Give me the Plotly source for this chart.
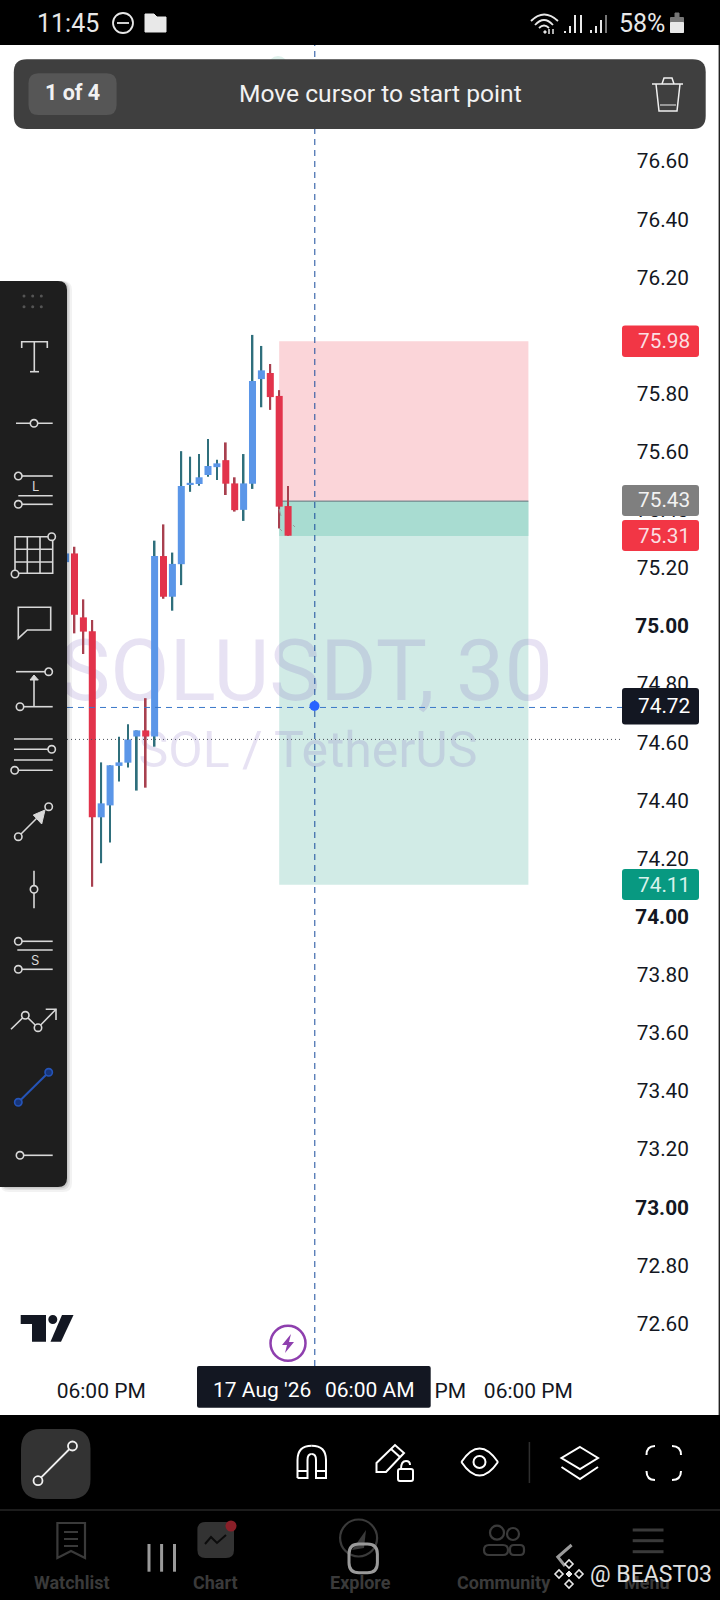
import pandas as pd
import plotly.graph_objects as go

# --- candle data (SOLUSDT 30m) ---
times = pd.date_range("2026-08-16 16:00", periods=26, freq="30min")
opens = [75.22, 75.25, 75.03, 74.982, 74.342, 74.383, 74.519, 74.53, 74.62, 74.641, 74.62, 75.241, 75.101,
         75.213, 75.488, 75.489, 75.52, 75.547, 75.571, 75.491, 75.4, 75.49, 75.85, 75.871, 75.792, 75.413]
highs = [75.26, 75.273, 75.092, 75.021, 74.531, 74.521, 74.619, 74.662, 74.641, 74.752, 75.294, 75.35, 75.253,
         75.602, 75.583, 75.592, 75.644, 75.572, 75.632, 75.512, 75.592, 76.002, 75.964, 75.902, 75.812, 75.482]
lows = [75.20, 74.975, 74.904, 74.103, 74.184, 74.255, 74.465, 74.513, 74.434, 74.444, 74.585, 75.094, 75.053,
        75.141, 75.462, 75.483, 75.514, 75.503, 75.451, 75.394, 75.362, 75.472, 75.753, 75.744, 75.336, 75.311]
closes = [75.25, 75.039, 74.981, 74.342, 74.39, 74.521, 74.531, 74.61, 74.641, 74.62, 75.241, 75.101, 75.214,
          75.482, 75.493, 75.512, 75.551, 75.56, 75.49, 75.399, 75.491, 75.843, 75.88, 75.788, 75.411, 75.311]

price_ticks = [72.6, 72.8, 73.0, 73.2, 73.4, 73.6, 73.8, 74.0, 74.2, 74.4, 74.6, 74.8, 75.0, 75.2, 75.4, 75.6,
               75.8, 76.0, 76.2, 76.4, 76.6]
time_ticks = ["2026-08-16 18:00", "2026-08-17 00:00", "2026-08-17 06:00", "2026-08-17 12:00", "2026-08-17 18:00"]
time_labels = ["06:00 PM", "17", "06:00 AM", "12:00 PM", "06:00 PM"]

stop_price = 75.98
entry_price = 75.43
last_price = 75.31
target_price = 74.11
cursor_price = 74.72
prev_close = 74.61
zone_start = "2026-08-17 04:00"
zone_end = "2026-08-17 18:00"
cursor_time = "2026-08-17 06:00"

BLUE = "#5b96e8"
RED = "#e2334b"
ICON = "#d8d8d8"


# pixel calibration of the chart pane
def px_time(px):
    return pd.Timestamp("2026-08-16 16:30") + pd.Timedelta(minutes=(px - 74.5) / 8.9 * 30)


def px_price(py):
    return 75.98 - (py - 341.3) / 290.6


def X(px):
    return px / 720


def Y(py):
    return 1 - py / 1600


shapes = []


def rrect(x0, y0, x1, y1, r, fill, line=None, w=0, opacity=1):
    d = (f"M {X(x0 + r)} {Y(y0)} L {X(x1 - r)} {Y(y0)} Q {X(x1)} {Y(y0)} {X(x1)} {Y(y0 + r)} "
         f"L {X(x1)} {Y(y1 - r)} Q {X(x1)} {Y(y1)} {X(x1 - r)} {Y(y1)} L {X(x0 + r)} {Y(y1)} "
         f"Q {X(x0)} {Y(y1)} {X(x0)} {Y(y1 - r)} L {X(x0)} {Y(y0 + r)} Q {X(x0)} {Y(y0)} {X(x0 + r)} {Y(y0)} Z")
    shapes.append(dict(type="path", xref="paper", yref="paper", path=d, fillcolor=fill, opacity=opacity,
                       line=dict(color=line or "rgba(0,0,0,0)", width=w)))


def poly(pts, color=ICON, w=1.6, fill=None, close=False):
    d = "M " + " L ".join(f"{X(a)} {Y(b)}" for a, b in pts) + (" Z" if close else "")
    shapes.append(dict(type="path", xref="paper", yref="paper", path=d,
                       fillcolor=fill or "rgba(0,0,0,0)", line=dict(color=color, width=w)))


def curve(x0, y0, cx, cy, x1, y1, color, w=1.6):
    d = f"M {X(x0)} {Y(y0)} Q {X(cx)} {Y(cy)} {X(x1)} {Y(y1)}"
    shapes.append(dict(type="path", xref="paper", yref="paper", path=d, line=dict(color=color, width=w)))


def circ(cx, cy, r, color=ICON, w=1.6, fill=None):
    shapes.append(dict(type="circle", xref="paper", yref="paper", x0=X(cx - r), x1=X(cx + r), y0=Y(cy + r), y1=Y(cy - r),
                       fillcolor=fill or "rgba(0,0,0,0)", line=dict(color=color, width=w)))


def label(x, y, text, color, size, bold=False, family="Roboto", anchor="center"):
    return dict(xref="paper", yref="paper", x=X(x), y=Y(y), text=f"<b>{text}</b>" if bold else text, showarrow=False,
                xanchor=anchor, yanchor="middle", font=dict(family=family, size=size, color=color))


# --- position tool zones, under the candles ---
def zone(p0, p1, fill):
    shapes.append(dict(type="rect", xref="x", yref="y", x0=zone_start, x1=zone_end, y0=p0, y1=p1, fillcolor=fill,
                       line_width=0, layer="below"))


zone(entry_price, stop_price, "#fbd5d9")
zone(target_price, entry_price, "#d1ebe6")
zone(last_price, entry_price, "#a8dcd1")
shapes.append(dict(type="line", xref="x", yref="y", x0=zone_start, x1=zone_end, y0=entry_price, y1=entry_price,
                   line=dict(color="#5d7078", width=1), layer="below"))

# --- crosshair and previous close line ---
shapes.append(dict(type="line", xref="x", yref="paper", x0=cursor_time, x1=cursor_time, y0=Y(1366), y1=Y(45),
                   line=dict(color="#174a9c", width=1, dash="6px,5px")))
shapes.append(dict(type="line", xref="paper", yref="y", x0=X(67), x1=X(622), y0=cursor_price, y1=cursor_price,
                   line=dict(color="#3a78c8", width=1, dash="6px,5px")))
shapes.append(dict(type="line", xref="paper", yref="y", x0=X(67), x1=X(620), y0=prev_close, y1=prev_close,
                   line=dict(color="#4a4f58", width=1, dash="1px,3px")))
circ(314.5, 706, 5, "#2962ff", 0, "#2962ff")

# small cursor marks beside the last candle
poly([(279, 509), (281, 516)], "#9a9a9a", 1)
poly([(279, 528), (282, 531)], "#9a9a9a", 1)
poly([(293, 525), (295, 527)], "#9a9a9a", 1)

# --- price tags ---
rrect(622, 325.5, 699, 357, 3, "#f23645")
rrect(622, 485, 699, 516, 3, "#7f7f7f")
rrect(622, 520, 699, 551, 3, "#f23645")
rrect(622, 688, 699, 724.5, 3, "#131722")
rrect(622, 869, 699, 900, 3, "#089981")

# --- status bar and hint bar ---
shapes.append(dict(type="rect", xref="paper", yref="paper", x0=X(718.6), x1=X(720), y0=Y(1415), y1=Y(45),
                   fillcolor="#222222", line_width=0))
shapes.append(dict(type="rect", xref="paper", yref="paper", x0=0, x1=1, y0=Y(45), y1=1, fillcolor="#000000", line_width=0))
circ(278, 66, 10, "#dff1ec", 0, "#dff1ec")
rrect(13.8, 59.3, 705.7, 129, 13, "#3f3f3f")
rrect(28.5, 73.3, 116.6, 115, 10, "#565656")
circ(123, 23, 10, "#e8e8e8", 1.8)
poly([(117, 23), (129, 23)], "#e8e8e8", 1.8)
poly([(145, 14), (154, 14), (157, 17), (166, 17), (166, 32), (145, 32)], "#e8e8e8", 1, "#e8e8e8", True)
# wifi
curve(531, 21, 544, 8, 558, 21, "#e8e8e8", 1.8)
curve(535, 25, 544, 15, 553, 25, "#e8e8e8", 1.8)
curve(539, 28, 544, 23, 549, 28, "#e8e8e8", 1.8)
circ(545, 32, 1.2, "#e8e8e8", 1, "#e8e8e8")
poly([(553, 29), (553, 34)], "#e8e8e8", 1.5)
poly([(549, 34), (549, 29)], "#e8e8e8", 1.5)
# signal bars
for bx, by in [(565, 31), (570, 26), (575, 15), (581, 15)]:
    poly([(bx, by), (bx, 33)], "#e8e8e8", 2)
for bx, by in [(591, 30), (596, 26), (601, 20), (606, 15)]:
    poly([(bx, by), (bx, 33)], "#e8e8e8" if bx < 606 else "#777777", 2)
# battery
rrect(670, 17, 684, 33, 1, "#777777")
rrect(670, 22, 684, 33, 1, "#e8e8e8")
poly([(675, 13), (679, 13), (679, 17), (675, 17)], "#777777", 1, "#777777", True)
# trash
poly([(652, 84), (683, 84)], "#f0f0f0", 1.5)
poly([(662, 84), (664, 78), (672, 78), (674, 84)], "#f0f0f0", 1.5)
poly([(656, 84), (659, 111), (677, 111), (680, 84)], "#f0f0f0", 1.5)
poly([(660, 105), (676, 105)], "#f0f0f0", 1)

# --- drawing toolbar ---
for grow, alpha in [(5, 0.05), (3, 0.07), (1.5, 0.1)]:
    rrect(0, 281, 67 + grow, 1187 + grow, 9, f"rgba(0,0,0,{alpha})")
rrect(-8, 281, 67, 1187, 9, "#1e1e1e")
for gy in (296, 306.7):
    for gx in (24, 32.7, 41.3):
        circ(gx, gy, 1.5, "#555555", 0, "#555555")


def node(cx, cy, color=ICON, fill="#1e1e1e", r=3.7):
    circ(cx, cy, r, color, 1.6, fill)


# T
poly([(21.7, 348), (21.7, 341.7), (47.3, 341.7), (47.3, 348)])
poly([(34.3, 341.7), (34.3, 371.7)])
poly([(30, 371.7), (39, 371.7)])
# horizontal ray
poly([(16, 423.3), (52.7, 423.3)])
node(34, 423.3)
# L levels
poly([(21.7, 476), (52.7, 476)])
node(18.3, 476)
poly([(18.3, 495.7), (52.7, 495.7)])
poly([(21.7, 504.3), (52.7, 504.3)])
node(18.3, 504.3)
# grid
poly([(15, 536.7), (52.7, 536.7), (52.7, 573.3), (15, 573.3)], close=True)
for gx in (27.3, 40):
    poly([(gx, 536.7), (gx, 573.3)])
for gy in (549.3, 562):
    poly([(15, gy), (52.7, gy)])
node(51.7, 536.7)
node(15, 574)
# comment
poly([(18.3, 607.3), (50.7, 607.3), (50.7, 630), (27.3, 630), (18.3, 638.3)], close=True)
# price range
poly([(16, 671.7), (45, 671.7)])
node(48.7, 671.7)
poly([(34, 677), (34, 706.7)])
poly([(30, 680), (38.3, 680), (34, 675)], ICON, 1, ICON, True)
poly([(24, 706.7), (52.7, 706.7)])
node(20, 706.7)
# channel lines
poly([(14, 739), (52.7, 739)])
poly([(14, 749.3), (48, 749.3)])
node(51.7, 749.3)
poly([(14, 760), (52.7, 760)])
poly([(18.4, 770.3), (52.7, 770.3)])
node(14.7, 770.3)
# arrow
poly([(21, 834), (38, 817)])
poly([(45, 810), (33.3, 815), (41.7, 824)], ICON, 1, ICON, True)
node(18.3, 836.7)
node(48.7, 806.7)
# vertical
poly([(34, 870.7), (34, 908.3)])
node(34, 889.3)
# S levels
poly([(21.7, 941.3), (52.7, 941.3)])
node(18.3, 941.3)
poly([(17.3, 950), (52.7, 950)])
poly([(21.7, 969.3), (52.7, 969.3)])
node(18.3, 969.3)
# zigzag
poly([(11, 1029.3), (25.3, 1015.3), (38, 1027.7), (56, 1009.3)])
poly([(45.7, 1009.3), (56, 1009.3), (56, 1020)])
node(25.3, 1015.3)
node(38, 1027.7)
# active trend line
poly([(18.3, 1102.3), (48.7, 1072.3)], "#2554b8", 2)
node(48.7, 1072.3, "#2554b8", "#17357a")
node(18.3, 1102.3, "#2554b8", "#17357a")
# ray
poly([(24, 1155.3), (52.7, 1155.3)])
node(20, 1155.3)

# --- tradingview logo, bolt, time tag ---
poly([(20.7, 1315), (46, 1315), (46, 1341.7), (32, 1341.7), (32, 1324), (20.7, 1324)], "#131722", 0, "#131722", True)
circ(52.8, 1319.5, 4.5, "#131722", 0, "#131722")
poly([(62, 1315), (73.5, 1315), (61, 1341.7), (50.5, 1341.7)], "#131722", 0, "#131722", True)
circ(288, 1343.3, 17.5, "#8e3fae", 2.5, "#ffffff")
poly([(291, 1334), (282, 1345), (287, 1345), (285, 1353), (294, 1342), (289, 1342)], "#8e3fae", 0, "#8e3fae", True)
rrect(197, 1366, 430.7, 1407.7, 2, "#131722")

# --- bottom panels ---
shapes.append(dict(type="rect", xref="paper", yref="paper", x0=0, x1=1, y0=0, y1=Y(1415), fillcolor="#000000", line_width=0))
poly([(0, 1510), (720, 1510)], "#262626", 1.5)
rrect(21, 1429, 90.5, 1499, 20, "#333333")
poly([(38, 1480.7), (72.5, 1446)], "#f0f0f0", 1.8)
circ(72.5, 1446, 4.5, "#f0f0f0", 1.8, "#333333")
circ(38, 1480.7, 4.5, "#f0f0f0", 1.8, "#333333")
# magnet
poly([(297.5, 1478), (297.5, 1460)], "#ffffff", 2)
curve(297.5, 1460, 297.5, 1445.7, 311.7, 1445.7, "#ffffff", 2)
curve(311.7, 1445.7, 326, 1445.7, 326, 1460, "#ffffff", 2)
poly([(326, 1460), (326, 1478), (316, 1478), (316, 1460)], "#ffffff", 2)
curve(316, 1460, 316, 1454, 311.7, 1454, "#ffffff", 2)
curve(311.7, 1454, 307.5, 1454, 307.5, 1460, "#ffffff", 2)
poly([(307.5, 1460), (307.5, 1478), (297.5, 1478)], "#ffffff", 2)
poly([(297.5, 1471), (307.5, 1471)], "#ffffff", 2)
poly([(316, 1471), (326, 1471)], "#ffffff", 2)
# pencil with lock
poly([(376.5, 1472), (376.5, 1463), (395, 1445), (404, 1453), (386, 1472)], "#ffffff", 2, None, True)
poly([(391, 1449), (400, 1457)], "#ffffff", 2)
rrect(398, 1469, 413, 1481, 2, "#000000", "#ffffff", 2)
curve(401, 1469, 401, 1461, 406, 1461, "#ffffff", 2)
curve(406, 1461, 410, 1461, 410, 1465, "#ffffff", 2)
# eye
curve(461.4, 1462, 479.5, 1435, 498, 1462, "#ffffff", 2)
curve(461.4, 1462, 479.5, 1489, 498, 1462, "#ffffff", 2)
circ(479.5, 1462, 6, "#ffffff", 2)
poly([(529.4, 1442), (529.4, 1483)], "#2e2e2e", 1.5)
# layers
poly([(580, 1447), (598, 1458), (580, 1469), (561.5, 1458)], "#ffffff", 2, None, True)
poly([(561.5, 1467), (580, 1479), (598, 1467)], "#ffffff", 2)
# fullscreen corners
for (ax, ay), (cx, cy), (bx, by) in [((646.5, 1455), (646.5, 1446), (655, 1446)), ((672, 1446), (681, 1446), (681, 1455)),
                                     ((646.5, 1471), (646.5, 1480), (655, 1480)), ((672, 1480), (681, 1480), (681, 1471))]:
    curve(ax, ay, cx, cy, bx, by, "#ffffff", 2)

# dimmed nav bar
DIM = "#3a3a3a"
poly([(57.4, 1523), (85, 1523), (85, 1558), (71, 1551), (57.4, 1558)], DIM, 2.2, None, True)
for ly in (1532, 1539, 1546):
    poly([(64, ly), (78, ly)], DIM, 2)
rrect(197.4, 1522, 234, 1558, 8, "#333333")
poly([(205, 1544), (211, 1537), (217, 1543), (226, 1535)], "#0c0c0c", 2)
circ(231, 1526, 5.5, "#8a1f28", 0, "#8a1f28")
circ(358.6, 1538, 18.5, DIM, 2.2)
poly([(352, 1550), (366, 1530), (364, 1548)], DIM, 0, DIM, True)
circ(497, 1532.7, 7, DIM, 2.2)
circ(513, 1534, 6, DIM, 2.2)
rrect(484, 1545, 508, 1555, 5, "#000000", DIM, 2.2)
rrect(510, 1545, 524, 1555, 4, "#000000", DIM, 2.2)
for ly in (1530, 1540.7, 1551.7):
    poly([(632.7, ly), (663.5, ly)], DIM, 3)

# android nav overlay and watermark handle
for bx in (149, 161.6, 174.5):
    poly([(bx, 1544), (bx, 1571.7)], "#9a9a9a", 3)
rrect(349, 1544, 377.4, 1572.7, 10, "rgba(0,0,0,0)", "#9a9a9a", 3)
poly([(571.6, 1545), (557.8, 1557), (565, 1566)], "#9a9a9a", 3)
for dx, dy in [(569, 1564), (569, 1584), (559, 1574), (579, 1574)]:
    poly([(dx - 4, dy), (dx, dy - 4), (dx + 4, dy), (dx, dy + 4)], "#e6e6e6", 1.6, None, True)
poly([(566, 1574), (569, 1571), (572, 1574), (569, 1577)], "#e6e6e6", 1, "#e6e6e6", True)

# --- text overlays ---
annotations = [
    label(68.4, 23, "11:45", "#e8e8e8", 25),
    label(641.5, 23, "58%", "#e8e8e8", 25),
    label(72.5, 93, "1 of 4", "#f2f2f2", 21.5, bold=True),
    label(380, 94, "Move cursor to start point", "#f2f2f2", 24.6),
    label(35, 486, "L", ICON, 13, family="Inter"),
    label(35.3, 960, "S", ICON, 13, family="Inter"),
    label(664, 341, f"{stop_price:.2f}", "#fbdfe2", 20.8),
    label(664, 500.5, f"{entry_price:.2f}", "#f2f2f2", 20.8),
    label(664, 535.5, f"{last_price:.2f}", "#fbdfe2", 20.8),
    label(664, 706, f"{cursor_price:.2f}", "#ffffff", 20.8),
    label(664, 884.5, f"{target_price:.2f}", "#d8f2ec", 20.8),
    label(261.7, 1390, "17 Aug '26", "#ffffff", 21),
    label(370.5, 1390, "06:00 AM", "#ffffff", 21),
    label(72, 1582, "Watchlist", DIM, 18, bold=True),
    label(215, 1582, "Chart", DIM, 18, bold=True),
    label(360, 1582, "Explore", DIM, 18, bold=True),
    label(503.7, 1582, "Community", DIM, 18, bold=True),
    label(647, 1582, "Menu", DIM, 18, bold=True),
    label(650.5, 1574, "@ BEAST03", "#e0e0e0", 23),
]

fig = go.Figure()

# watermark sits on the base subplot so the candles on y2 draw over it
fig.add_trace(go.Scatter(x=[px_time(306), px_time(308)], y=[px_price(678), px_price(754)], mode="text",
                         text=["SOLUSDT, 30", "SOL / TetherUS"], textposition="middle center",
                         textfont=dict(family="Roboto", size=[86, 50], color="rgba(120,95,190,0.18)"),
                         hoverinfo="skip", showlegend=False))

wick_colors = ["#2f6f7c" if c >= o else "#a8404f" for o, c in zip(opens, closes)]
body_colors = [BLUE if c >= o else RED for o, c in zip(opens, closes)]
fig.add_trace(go.Bar(x=times, y=[h - l for h, l in zip(highs, lows)], base=lows, yaxis="y2", width=360000,
                     marker=dict(color=wick_colors, line_width=0), showlegend=False))
fig.add_trace(go.Bar(x=times, y=[abs(c - o) for o, c in zip(opens, closes)], base=[min(o, c) for o, c in zip(opens, closes)],
                     yaxis="y2", width=1420000, marker=dict(color=body_colors, line_width=0), showlegend=False))

y_range = [px_price(1376), px_price(45)]
ticktext = [f"<b>{t:.2f}</b>" if abs(t - round(t)) < 1e-6 else f"{t:.2f}" for t in price_ticks]

fig.update_layout(
    width=720, height=1600, margin=dict(l=0, r=0, t=0, b=0), paper_bgcolor="#ffffff", plot_bgcolor="#ffffff",
    barmode="overlay", showlegend=False, font=dict(family="Roboto", color="#131722"),
    shapes=shapes, annotations=annotations,
    xaxis=dict(type="date", range=[px_time(0), px_time(720)], domain=[0, 1], tickmode="array", tickvals=time_ticks,
               ticktext=time_labels, showgrid=False, zeroline=False, showline=False, ticks="",
               tickfont=dict(family="Roboto", size=21, color="#131722"), ticklabelstandoff=0),
    yaxis=dict(range=y_range, domain=[Y(1376), Y(45)], tickmode="array", tickvals=price_ticks, ticktext=ticktext,
               anchor="free", position=X(692), side="right", ticklabelposition="inside", showgrid=False,
               zeroline=False, showline=False, ticks="", tickfont=dict(family="Roboto", size=20.8, color="#131722")),
    yaxis2=dict(range=y_range, domain=[Y(1376), Y(45)], overlaying="y", visible=False),
)

fig.write_html("out.html", config={"displayModeBar": False}, post_script="document.body.style.margin='0';")
